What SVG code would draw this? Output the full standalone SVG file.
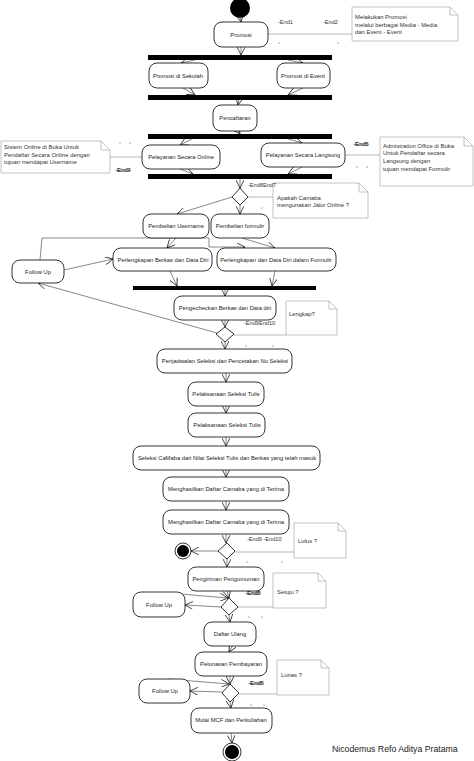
<svg xmlns="http://www.w3.org/2000/svg" width="474" height="761" viewBox="0 0 474 761">
<defs>
<marker id="oa" markerWidth="9" markerHeight="8" refX="8" refY="4" orient="auto" markerUnits="userSpaceOnUse">
<path d="M0,0 L8,4 L0,8" fill="none" stroke="#000" stroke-width="0.7"/>
</marker>
</defs>
<style>
.n rect{fill:#fff;stroke:#000;stroke-width:0.8}
.t{font-family:"Liberation Sans",Arial,sans-serif;font-size:5.8px;fill:#222;text-anchor:middle;dominant-baseline:central}
.nt path{fill:#fff;stroke:#aaa;stroke-width:0.7}
.ntx{font-family:"Liberation Sans",Arial,sans-serif;font-size:5.9px;fill:#333}
.bar{fill:#000}
.c line,.c polyline{stroke:#555;stroke-width:0.7;fill:none}
.c .a{marker-end:url(#oa)}
.ln line{stroke:#999;stroke-width:0.7}
.lb{font-family:"Liberation Sans",Arial,sans-serif;font-size:5.6px;fill:#333}
.d polygon{fill:#fff;stroke:#000;stroke-width:0.8}
.dot{fill:#444}
</style>
<rect width="474" height="761" fill="#fff"/>

<g id="start"><circle cx="240" cy="8" r="10" fill="#000"/></g>

<g id="bars">
<rect class="bar" x="148" y="55" width="184" height="5"/>
<rect class="bar" x="148" y="95" width="184" height="5"/>
<rect class="bar" x="148" y="134" width="184" height="5"/>
<rect class="bar" x="148" y="174" width="184" height="5"/>
<rect class="bar" x="133" y="286" width="183" height="4"/>
</g>

<g id="notes" class="nt">
<g id="note1"><path d="M352,7 H450 L458,15 V41 H352 Z M450,7 V15 H458"/>
<text class="ntx" x="355" y="19">Melakukan Promosi</text><text class="ntx" x="355" y="27">melalui berbagai Media - Media</text><text class="ntx" x="355" y="34">dan Event - Event</text></g>
<g id="note2"><path d="M1,141 H101 L110,150 V173 H1 Z M101,141 V150 H110"/>
<text class="ntx" x="4" y="149">Sistem Online di Buka Untuk</text><text class="ntx" x="4" y="157">Pendaftar Secara Online dengan</text><text class="ntx" x="4" y="164">tujuan mendapat Username</text></g>
<g id="note3"><path d="M380,137 H464 L473,146 V186 H380 Z M464,137 V146 H473"/>
<text class="ntx" x="383" y="148">Admistration Office di Buka</text><text class="ntx" x="383" y="155">Untuk Pendaftar secara</text><text class="ntx" x="383" y="163">Langsung dengan</text><text class="ntx" x="383" y="171">tujuan mendapat Formulir</text></g>
<g id="note4"><path d="M273,183 H359 L368,192 V218 H273 Z M359,183 V192 H368"/>
<text class="ntx" x="277" y="200">Apakah Camaba</text><text class="ntx" x="277" y="207">mengunakan Jalur Online ?</text></g>
<g id="note5"><path d="M286,301 H329 L337,309 V335 H286 Z M329,301 V309 H337"/>
<text class="ntx" x="289" y="316">Lengkap?</text></g>
<g id="note6"><path d="M294,523 H338 L346,531 V558 H294 Z M338,523 V531 H346"/>
<text class="ntx" x="298" y="543">Lulus ?</text></g>
<g id="note7"><path d="M273,573 H318 L326,581 V608 H273 Z M318,573 V581 H326"/>
<text class="ntx" x="277" y="594">Setuju ?</text></g>
<g id="note8"><path d="M277,660 H321 L329,668 V695 H277 Z M321,660 V668 H329"/>
<text class="ntx" x="281" y="677">Lunas ?</text></g>
</g>

<g id="connectors" class="c">
<g class="ln">
<line x1="268" y1="34" x2="352" y2="34"/>
<line x1="110" y1="157" x2="142" y2="157"/>
<line x1="345" y1="155" x2="380" y2="155"/>
<line x1="248" y1="197" x2="273" y2="197"/>
<line x1="234" y1="335" x2="286" y2="335"/>
<line x1="235" y1="552" x2="294" y2="552"/>
<line x1="238" y1="607" x2="273" y2="607"/>
<line x1="239" y1="694" x2="277" y2="694"/>
</g>
<line class="a" x1="240" y1="16" x2="241" y2="22"/>
<line class="a" x1="241" y1="47" x2="241" y2="55"/>
<line class="a" x1="195" y1="60" x2="181" y2="63"/>
<line class="a" x1="288" y1="60" x2="303" y2="63"/>
<line class="a" x1="183" y1="88" x2="195" y2="95"/>
<line class="a" x1="303" y1="88" x2="288" y2="95"/>
<line class="a" x1="239" y1="100" x2="238" y2="105"/>
<line class="a" x1="238" y1="131" x2="240" y2="134"/>
<line class="a" x1="192" y1="139" x2="180" y2="145"/>
<line class="a" x1="288" y1="139" x2="302" y2="143"/>
<line class="a" x1="180" y1="169" x2="193" y2="174"/>
<line class="a" x1="302" y1="167" x2="288" y2="174"/>
<line class="a" x1="240" y1="179" x2="240" y2="188"/>
<line class="a" x1="232" y1="197" x2="177" y2="214"/>
<line class="a" x1="240" y1="205" x2="240" y2="214"/>
<line class="a" x1="176" y1="238" x2="167" y2="248"/>
<line class="a" x1="242" y1="238" x2="275" y2="248"/>
<polyline class="a" points="40,260 42,238 209,238 209,247 245,247"/>
<line class="a" x1="64" y1="270" x2="113" y2="259"/>
<line class="a" x1="170" y1="271" x2="177" y2="286"/>
<line class="a" x1="275" y1="271" x2="272" y2="286"/>
<line class="a" x1="225" y1="290" x2="225" y2="296"/>
<line class="a" x1="225" y1="320" x2="225" y2="327"/>
<line class="a" x1="217" y1="333" x2="38" y2="283"/>
<line class="a" x1="225" y1="342" x2="225" y2="349"/>
<line class="a" x1="226" y1="373" x2="226" y2="382"/>
<line class="a" x1="226" y1="406" x2="226" y2="413"/>
<line class="a" x1="226" y1="437" x2="226" y2="446"/>
<line class="a" x1="226" y1="470" x2="226" y2="477"/>
<line class="a" x1="226" y1="501" x2="226" y2="510"/>
<line class="a" x1="226" y1="534" x2="226" y2="543"/>
<line class="a" x1="218" y1="551" x2="191" y2="551"/>
<line class="a" x1="227" y1="559" x2="227" y2="567"/>
<line class="a" x1="227" y1="591" x2="229" y2="598"/>
<line class="a" x1="180" y1="594" x2="228" y2="598"/>
<line class="a" x1="221" y1="607" x2="185" y2="605"/>
<line class="a" x1="229" y1="615" x2="230" y2="622"/>
<line class="a" x1="233" y1="645" x2="229" y2="652"/>
<line class="a" x1="230" y1="676" x2="230" y2="684"/>
<line class="a" x1="168" y1="679" x2="229" y2="684"/>
<line class="a" x1="222" y1="692" x2="190" y2="691"/>
<line class="a" x1="230" y1="702" x2="231" y2="708"/>
<line class="a" x1="231" y1="733" x2="232" y2="743"/>
</g>

<g id="labels">
<text class="lb" x="278" y="24">-End1</text>
<text class="lb" x="323" y="24">-End2</text>
<text class="lb" x="115" y="172">-End3</text><text class="lb" x="116" y="172">-End4</text>
<text class="lb" x="353" y="146">-End5</text><text class="lb" x="354" y="146">-End6</text>
<text class="lb" x="248" y="187">-End8End7</text>
<text class="lb" x="244" y="325">-End9End10</text>
<text class="lb" x="247" y="541">-End9 -End10</text>
<text class="lb" x="245" y="595">-End8</text><text class="lb" x="246" y="595">-End9</text>
<text class="lb" x="248" y="685">-End8</text><text class="lb" x="249" y="685">-End9</text>
<circle class="dot" cx="279" cy="43" r="0.6"/><circle class="dot" cx="338" cy="43" r="0.6"/>
<circle class="dot" cx="120" cy="143" r="0.6"/><circle class="dot" cx="130" cy="143" r="0.6"/>
<circle class="dot" cx="357" cy="167" r="0.6"/><circle class="dot" cx="367" cy="167" r="0.6"/>
<circle class="dot" cx="262" cy="208" r="0.6"/>
<circle class="dot" cx="246" cy="346" r="0.6"/><circle class="dot" cx="273" cy="346" r="0.6"/>
<circle class="dot" cx="247" cy="562" r="0.6"/><circle class="dot" cx="282" cy="562" r="0.6"/>
<circle class="dot" cx="249" cy="617" r="0.6"/><circle class="dot" cx="262" cy="617" r="0.6"/>
<circle class="dot" cx="251" cy="705" r="0.6"/><circle class="dot" cx="264" cy="705" r="0.6"/>
</g>

<g id="promosi" class="n"><rect x="214" y="22" width="54" height="25" rx="8"/><text class="t" x="241" y="35">Promosi</text></g>
<g id="sekolah" class="n"><rect x="149" y="63" width="59" height="25" rx="8"/><text class="t" x="178" y="76">Promosi di Sekolah</text></g>
<g id="event" class="n"><rect x="277" y="63" width="53" height="25" rx="8"/><text class="t" x="303" y="76">Promosi di Event</text></g>
<g id="pencaftaran" class="n"><rect x="213" y="105" width="44" height="26" rx="8"/><text class="t" x="235" y="118">Pencaftaran</text></g>
<g id="online" class="n"><rect x="142" y="145" width="78" height="24" rx="8"/><text class="t" x="181" y="157">Pelayanan Secara Online</text></g>
<g id="langsung" class="n"><rect x="261" y="143" width="84" height="24" rx="8"/><text class="t" x="303" y="155">Pelayanan Secara Langsung</text></g>
<g id="dec1" class="d"><polygon points="240,188 248,197 240,205 232,197"/></g>
<g id="username" class="n"><rect x="143" y="214" width="66" height="24" rx="8"/><text class="t" x="176" y="226">Pembelian Username</text></g>
<g id="formulir" class="n"><rect x="211" y="214" width="58" height="24" rx="8"/><text class="t" x="240" y="226">Pembelian formulir</text></g>
<g id="berkas" class="n"><rect x="113" y="248" width="99" height="23" rx="8"/><text class="t" x="163" y="260">Perlengkapan Berkas dan Data Diri</text></g>
<g id="dataformulir" class="n"><rect x="217" y="248" width="119" height="23" rx="8"/><text class="t" x="276" y="260">Perlengkapan dan Data Diri dalam Formulir</text></g>
<g id="followup1" class="n"><rect x="12" y="260" width="52" height="23" rx="8"/><text class="t" x="38" y="272">Follow Up</text></g>
<g id="pengecheckan" class="n"><rect x="174" y="296" width="102" height="24" rx="8"/><text class="t" x="225" y="308">Pengecheckan Berkas dan Data diri</text></g>
<g id="dec2" class="d"><polygon points="225,327 234,334 225,342 216,334"/></g>
<g id="penjadwalan" class="n"><rect x="157" y="349" width="135" height="24" rx="8"/><text class="t" x="225" y="361">Penjadwalan Seleksi dan Pencetakan No Seleksi</text></g>
<g id="tulis1" class="n"><rect x="188" y="382" width="76" height="24" rx="8"/><text class="t" x="226" y="394">Pelaksanaan Seleksi Tulis</text></g>
<g id="tulis2" class="n"><rect x="188" y="413" width="77" height="24" rx="8"/><text class="t" x="227" y="425">Pelaksanaan Seleksi Tulis</text></g>
<g id="seleksi" class="n"><rect x="133" y="446" width="187" height="24" rx="8"/><text class="t" x="227" y="458">Seleksi CaMaba dari Nilai Seleksi Tulis dan Berkas yang telah masuk</text></g>
<g id="hasil1" class="n"><rect x="163" y="477" width="126" height="24" rx="8"/><text class="t" x="226" y="489">Menghasilkan Daftar Camaba yang di Terima</text></g>
<g id="hasil2" class="n"><rect x="163" y="510" width="126" height="24" rx="8"/><text class="t" x="226" y="522">Menghasilkan Daftar Camaba yang di Terima</text></g>
<g id="dec3" class="d"><polygon points="227,543 235,551 227,559 218,551"/></g>
<g id="end1"><circle cx="183" cy="551" r="8" fill="#fff" stroke="#000" stroke-width="0.8"/><circle cx="183" cy="551" r="6" fill="#000"/></g>
<g id="pengiriman" class="n"><rect x="188" y="567" width="76" height="24" rx="8"/><text class="t" x="226" y="579">Pengiriman Pengumuman</text></g>
<g id="dec4" class="d"><polygon points="229,598 238,607 229,615 221,607"/></g>
<g id="followup2" class="n"><rect x="133" y="592" width="52" height="25" rx="8"/><text class="t" x="159" y="605">Follow Up</text></g>
<g id="daftarulang" class="n"><rect x="204" y="622" width="52" height="24" rx="8"/><text class="t" x="230" y="634">Daftar Ulang</text></g>
<g id="pelunasan" class="n"><rect x="195" y="652" width="72" height="24" rx="8"/><text class="t" x="231" y="664">Pelunasan Pembayaran</text></g>
<g id="dec5" class="d"><polygon points="230,684 239,693 230,702 222,693"/></g>
<g id="followup3" class="n"><rect x="139" y="679" width="51" height="24" rx="8"/><text class="t" x="165" y="691">Follow Up</text></g>
<g id="mulai" class="n"><rect x="191" y="708" width="81" height="25" rx="8"/><text class="t" x="231" y="720">Mulai MCF dan Perkuliahan</text></g>
<g id="end2"><circle cx="232" cy="752" r="9" fill="#fff" stroke="#000" stroke-width="0.8"/><circle cx="232" cy="752" r="7" fill="#000"/></g>

<text id="author" x="332" y="752" font-family="'Liberation Sans',Arial,sans-serif" font-size="8.7" fill="#222">Nicodemus Refo Aditya Pratama</text>
</svg>
